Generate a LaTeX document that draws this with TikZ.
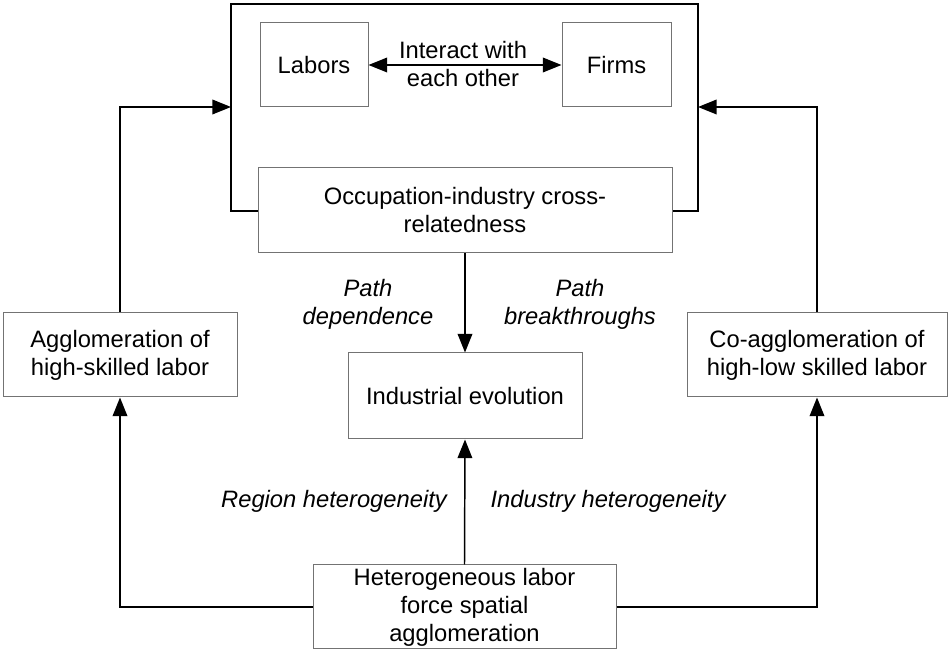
\documentclass[tikz,border=0pt]{standalone}
\usepackage{fontspec}
\setmainfont{Liberation Sans}
\usetikzlibrary{arrows.meta}
\begin{document}
\begin{tikzpicture}[x=0.75pt,y=-0.75pt,
  font=\fontsize{17.8}{21}\selectfont,
  box/.style={draw=black!55,line width=0.75pt,fill=white,inner sep=0pt,align=center},
  lbl/.style={inner sep=0pt,align=center,font=\fontsize{17.8}{21}\selectfont\itshape},
  conn/.style={line width=1.1pt,black},
  arr/.style={conn,-{Triangle[length=14pt,width=11pt]}},
  darr/.style={conn,{Triangle[length=14pt,width=11pt]}-{Triangle[length=14pt,width=11pt]}}]
\useasboundingbox (0,0) rectangle (950,655);
\fill[white] (0,0) rectangle (950,655);
% frame corners
\coordinate (fbl) at (231,211);
\coordinate (ftl) at (231,4);
\coordinate (ftr) at (698,4);
\coordinate (fbr) at (698,211);
\coordinate (fl) at (231,107);
\coordinate (fr) at (698,107);
\draw[conn] (258,211) -- (fbl) -- (ftl) -- (ftr) -- (fbr) -- (672,211);
% nodes
\node[box,minimum width=81pt,minimum height=63pt] (labors) at (314,65) {Labors};
\node[box,minimum width=81.75pt,minimum height=63pt] (firms) at (616.5,65) {Firms};
\node[box,minimum width=310.5pt,minimum height=63.75pt] (occ) at (465,210.5) {Occupation-industry cross-\\relatedness};
\node[box,minimum width=175.5pt,minimum height=64.5pt] (ind) at (465,396) {Industrial evolution};
\node[box,minimum width=227.25pt,minimum height=63pt] (het) at (464.5,607) {Heterogeneous labor\\force spatial\\agglomeration};
\node[box,minimum width=175.5pt,minimum height=63pt] (agg) at (120,355) {Agglomeration of\\high-skilled labor};
\node[box,minimum width=195pt,minimum height=63pt] (coagg) at (817,355) {Co-agglomeration of\\high-low skilled labor};
% labels
\node[inner sep=0pt,align=center] (inter) at (463,64.5) {Interact with\\each other};
\node[lbl] (pdep) at (368,304) {Path\\dependence};
\node[lbl] (pbr) at (580,304) {Path\\breakthroughs};
\node[lbl] (reg) at (334,501) {Region heterogeneity};
\node[lbl] (indh) at (608,501) {Industry heterogeneity};
% connectors
\draw[darr] (labors.east) -- (firms.west);
\draw[arr] (occ.south) -- (ind.north);
\draw[arr] (het.north) -- (ind.south);
\draw[arr] (agg.north) |- (fl);
\draw[arr] (coagg.north) |- (fr);
\draw[arr] (het.west) -| (agg.south);
\draw[arr] (het.east) -| (coagg.south);
\end{tikzpicture}
\end{document}
